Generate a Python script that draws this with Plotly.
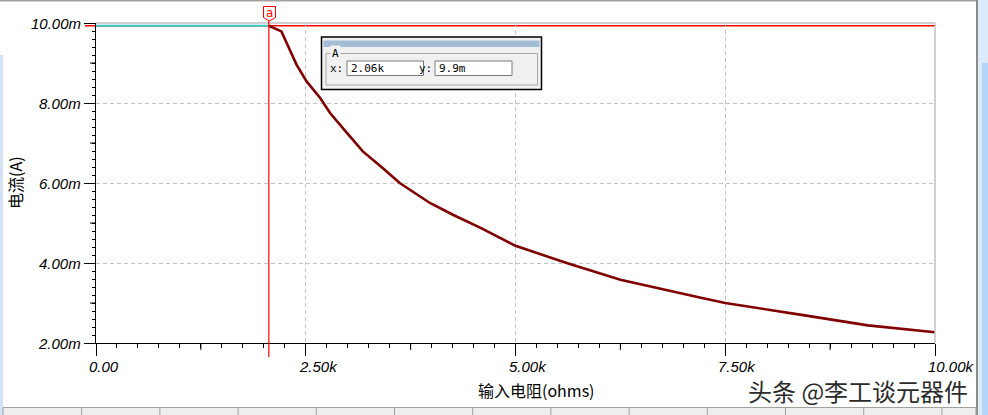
import plotly.graph_objects as go

# sweep data: input resistance (kohm) vs current (mA)
resistance_k = [0.0, 2.06, 2.21, 2.39, 2.51, 2.67, 2.79, 2.96, 3.18, 3.42, 3.62, 3.98,
                4.26, 4.59, 5.00, 5.61, 6.25, 7.21, 7.50, 8.39, 9.20, 10.0]
current_ma = [9.93, 9.93, 9.79, 8.96, 8.54, 8.13, 7.75, 7.33, 6.79, 6.37, 6.00, 5.50,
              5.20, 4.87, 4.43, 4.00, 3.58, 3.13, 3.00, 2.71, 2.44, 2.27]

x_ticks = [0, 2.5, 5, 7.5, 10]
x_tick_text = ["0.00", "2.50k", "5.00k", "7.50k", "10.00k"]
x_mid_ticks = [1.25, 3.75, 6.25, 8.75]
y_ticks = [2, 4, 6, 8, 10]
y_tick_text = ["2.00m", "4.00m", "6.00m", "8.00m", "10.00m"]
y_mid_ticks = [3, 5, 7, 9]

cursor_x = 2.06
cursor_y = 9.93
cursor_x_text = "2.06k"
cursor_y_text = "9.9m"

W, H = 988, 415
L, R, T, B = 96, 53, 23, 72
PW, PH = W - L - R, H - T - B

TICK_FONT = dict(family="Liberation Sans, Arial", size=15, color="#000000")
CJK = "Noto Sans CJK SC"
MONO = "DejaVu Sans Mono"


def px(x):
    return (x - L) / PW


def py(y):
    return (H - B - y) / PH


def rect(x0, y0, x1, y1, fill, line="rgba(0,0,0,0)", width=1):
    return dict(type="rect", xref="paper", yref="paper",
                x0=px(x0), x1=px(x1), y0=py(y1), y1=py(y0),
                fillcolor=fill, line=dict(color=line, width=width), layer="above")


def label(x, y, text, font, xanchor="center", **kw):
    return dict(x=px(x), y=py(y), xref="paper", yref="paper", text=text,
                xanchor=xanchor, yanchor="middle", showarrow=False, font=font, **kw)


fig = go.Figure()

# flat part of the curve (shown cyan under the cursor)
fig.add_trace(go.Scatter(
    x=resistance_k[:2], y=current_ma[:2], mode="lines",
    line=dict(color="#3ec6c6", width=2), hoverinfo="skip", showlegend=False
))
fig.add_trace(go.Scatter(
    x=resistance_k[1:], y=current_ma[1:], mode="lines",
    line=dict(color="#800000", width=2.6), showlegend=False,
    hovertemplate="%{x:.2f}k<br>%{y:.2f}m<extra></extra>"
))

shapes = []

# gray plot border (top / right)
shapes.append(dict(type="line", xref="paper", yref="paper", x0=0, x1=1, y0=1, y1=1,
                   line=dict(color="#c0c0c0", width=1.5)))
shapes.append(dict(type="line", xref="paper", yref="paper", x0=1, x1=1, y0=0, y1=1,
                   line=dict(color="#c0c0c0", width=1.5)))

# mid ticks
for v in x_mid_ticks:
    shapes.append(dict(type="line", xref="x", yref="paper", x0=v, x1=v, y0=0, y1=-7 / PH,
                       line=dict(color="black", width=1)))
for v in y_mid_ticks:
    shapes.append(dict(type="line", xref="paper", yref="y", x0=0, x1=-6 / PW, y0=v, y1=v,
                       line=dict(color="black", width=1)))

# cursor lines
shapes.append(dict(type="line", xref="paper", yref="y", x0=-11 / PW, x1=1,
                   y0=cursor_y, y1=cursor_y, layer="between",
                   line=dict(color="#ff0000", width=1.6)))
shapes.append(dict(type="line", xref="x", yref="paper", x0=cursor_x, x1=cursor_x,
                   y0=py(357), y1=py(20), line=dict(color="#ff0000", width=1.2)))
# cursor flag "a"
fx0, fx1, fxm = px(263.5), px(275.5), px(269.5)
shapes.append(dict(type="path", xref="paper", yref="paper",
                   path=f"M{fx0},{py(6.5)} L{fx1},{py(6.5)} L{fx1},{py(17.5)} "
                        f"L{fxm},{py(21)} L{fx0},{py(17.5)} Z",
                   fillcolor="white", line=dict(color="#ff0000", width=1)))

# cursor readout box
shapes.append(rect(321.5, 37, 541.5, 89.5, "#f0f0f0", "#000000", 1.5))
shapes.append(rect(323.5, 40.5, 539.5, 47, "#a3bdd6"))
shapes.append(rect(326, 53.5, 537.5, 85, "rgba(0,0,0,0)", "#a8a8a8", 1))
shapes.append(rect(347, 61, 423.5, 75.5, "white", "#7a7a7a", 1))
shapes.append(rect(435, 61, 512, 75.5, "white", "#7a7a7a", 1))

# window chrome
shapes.append(rect(0, 0, 978, 1.5, "#a0a0a0"))
shapes.append(rect(0, 55, 3, 415, "#d3e3f5"))
shapes.append(rect(976, 0, 978, 415, "#8c8c8c"))
shapes.append(rect(978, 0, 988, 415, "#dcebfb"))
shapes.append(rect(982, 63, 988, 415, "#b2d4f5"))
shapes.append(rect(3, 407.5, 976, 416, "#eeeeee", "#a0a0a0", 1))
for i in range(12):
    xs = 81.7 + i * 78.2
    shapes.append(dict(type="line", xref="paper", yref="paper", x0=px(xs), x1=px(xs),
                       y0=py(416), y1=py(407.5), line=dict(color="#a0a0a0", width=1)))

annotations = []
for v, t in zip(x_ticks, x_tick_text):
    annotations.append(dict(x=v, xref="x", y=py(366), yref="paper", text=f"<i>{t}</i>",
                            xanchor="left", xshift=-9, yanchor="middle",
                            showarrow=False, font=TICK_FONT))
for v, t in zip(y_ticks, y_tick_text):
    annotations.append(dict(x=px(83), xref="paper", y=v, yref="y", text=f"<i>{t}</i>",
                            xanchor="right", yanchor="middle",
                            showarrow=False, font=TICK_FONT))

box_font = dict(family=MONO, size=11, color="#000000")
annotations += [
    label(536, 390, "输入电阻(ohms)", dict(family=CJK, size=16, color="#000000")),
    label(15, 183, "电流(A)", dict(family=CJK, size=16, color="#000000"), textangle=-90),
    label(858, 390.5, "头条 @李工谈元器件", dict(family=CJK, size=24, color="#2b2b2b")),
    label(269.5, 12.5, "a", dict(family="DejaVu Sans", size=12, color="#ff0000")),
    label(335, 53.5, "A", box_font, bgcolor="#f0f0f0"),
    label(345, 68.5, "x:", box_font, xanchor="right"),
    label(349, 68.5, cursor_x_text, box_font, xanchor="left"),
    label(434, 68.5, "y:", box_font, xanchor="right"),
    label(437, 68.5, cursor_y_text, box_font, xanchor="left"),
]

axis_common = dict(
    showgrid=True, gridcolor="#c4c4c4", griddash="4px,3px", gridwidth=1,
    showline=True, linecolor="black", linewidth=1.2,
    ticks="outside", tickcolor="black", showticklabels=False, zeroline=False,
    fixedrange=True,
)

fig.update_layout(
    width=W, height=H, autosize=False,
    margin=dict(l=L, r=R, t=T, b=B),
    plot_bgcolor="white", paper_bgcolor="white",
    xaxis=dict(range=[0, 10], tickvals=x_ticks, ticklen=12,
               minor=dict(dtick=0.25, ticks="outside", ticklen=4, tickcolor="black",
                          showgrid=False), **axis_common),
    yaxis=dict(range=[2, 10], tickvals=y_ticks, ticklen=11,
               minor=dict(dtick=0.2, ticks="outside", ticklen=3, tickcolor="black",
                          showgrid=False), **axis_common),
    shapes=shapes,
    annotations=annotations,
    showlegend=False,
)

fig.write_html("out.html", config={"displayModeBar": False},
               post_script="document.body.style.margin = '0';")
